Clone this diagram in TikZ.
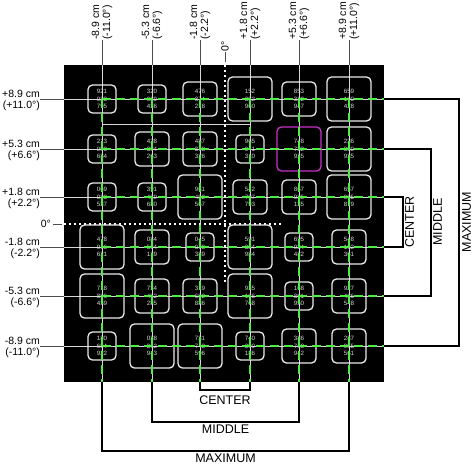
\documentclass[tikz,border=0pt]{standalone}
\usepackage{fontspec}
\setmainfont{Liberation Sans}
\usetikzlibrary{calc}

\definecolor{guide}{RGB}{80,235,70}
\definecolor{gridwhite}{RGB}{215,215,215}
\definecolor{boxwhite}{RGB}{235,235,235}
\definecolor{digitgray}{RGB}{215,215,215}
\definecolor{pickbox}{RGB}{200,50,200}

\begin{document}
\begin{tikzpicture}[x=1pt, y=-1pt,
    panel/.style={fill=black, inner sep=0pt, outer sep=0pt, minimum width=320pt, minimum height=317pt},
    poslab/.style={font=\fontsize{10.5}{11}\selectfont, inner sep=0pt},
    bracketlab/.style={font=\fontsize{12.5}{14}\selectfont, inner sep=0pt},
    tick/.style={draw=black!70, line width=0.9pt},
    bracket/.style={draw=black, line width=1.2pt},
    gridline/.style={draw=gridwhite, line width=1pt},
    zeroline/.style={draw=white, line width=1.1pt, dash pattern=on 2pt off 3pt},
    guideline/.style={draw=guide, line width=2.1pt, dash pattern=on 9pt off 5pt},
    cell/.style={draw=boxwhite, line width=1.3pt, rounded corners=4.5pt, inner sep=0pt,
        align=center, text=digitgray, font=\fontsize{6.2}{7.4}\selectfont},
    cellS/.style={cell, minimum width=28pt, minimum height=28pt},
    cellM/.style={cell, minimum width=34pt, minimum height=34pt},
    cellL/.style={cell, minimum width=44pt, minimum height=44pt},
    cellP/.style={cellL, draw=pickbox}]

    \useasboundingbox (0,0) rectangle (474,466);

    \node[panel] (sq) at (224,223.5) {};

    % columns (top edge) and rows (left edge)
    \foreach \i/\x in {1/102, 2/152, 3/200, 4/250, 5/299, 6/349} {
        \coordinate (c\i) at (\x,65);
        \coordinate (cb\i) at (\x,382);
    }
    \foreach \j/\y in {1/99, 2/149, 3/197, 4/247, 5/296, 6/346} {
        \coordinate (r\j) at (64,\y);
        \coordinate (re\j) at (384,\y);
    }
    \coordinate (c0) at (225,65);
    \coordinate (r0) at (64,224);

    \draw[zeroline] (c0) -- (225,283);
    \draw[zeroline] (r0) -- (282,224);

    \foreach \i in {1,...,6} {
        \draw[gridline] (c\i) -- (cb\i);
        \draw[gridline] (r\i) -- (re\i);
    }
    \draw[gridline] (102,124) -- (250,124);

    \foreach \i/\j/\s/\a/\b/\c in {
        1/1/S/921/083/795, 2/1/S/320/089/436, 3/1/M/476/874/218,
        4/1/L/152/382/960, 5/1/M/853/322/947, 6/1/L/659/190/428,
        1/2/S/213/093/684, 2/2/M/438/394/263, 3/2/M/487/878/326,
        4/2/S/965/941/310, 5/2/P/748/782/935, 6/2/L/236/380/935,
        1/3/S/069/083/537, 2/3/S/391/439/680, 3/3/L/961/452/567,
        4/3/M/542/707/793, 5/3/M/867/935/135, 6/3/L/657/905/879,
        1/4/L/478/916/621, 2/4/M/084/594/139, 3/4/S/045/078/389,
        4/4/L/591/384/984, 5/4/S/695/924/482, 6/4/M/548/192/361,
        1/5/L/718/896/439, 2/5/M/734/452/285, 3/5/M/319/692/886,
        4/5/L/935/136/768, 5/5/S/168/801/950, 6/5/M/927/426/548,
        1/6/S/180/654/922, 2/6/L/038/362/943, 3/6/L/731/743/596,
        4/6/S/740/390/186, 5/6/M/386/768/942, 6/6/M/287/955/561}
        \node[cell\s] (b\j\i) at (c\i |- r\j) {\a\\\b\\\c};

    \foreach \i in {1,...,6} {
        \draw[guideline] (c\i |- r1) -- (cb\i);
        \draw[guideline] (c1 |- r\i) -- (re\i);
    }

    % position labels
    \foreach \i/\t in {1/{-8.9 cm\\(-11.0°)}, 2/{-5.3 cm\\(-6.6°)}, 3/{-1.8 cm\\(-2.2°)},
        4/{+1.8 cm\\(+2.2°)}, 5/{+5.3 cm\\(+6.6°)}, 6/{+8.9 cm\\(+11.0°)}} {
        \node[poslab, rotate=90, anchor=west, align=left] (tx\i) at ($(c\i)+(0,-25)$) {\t};
        \draw[tick] (tx\i.west) -- (c\i);
    }
    \foreach \j/\t in {1/{+8.9 cm\\(+11.0°)}, 2/{+5.3 cm\\(+6.6°)}, 3/{+1.8 cm\\(+2.2°)},
        4/{-1.8 cm\\(-2.2°)}, 5/{-5.3 cm\\(-6.6°)}, 6/{-8.9 cm\\(-11.0°)}} {
        \node[poslab, anchor=east, align=right] (ly\j) at ($(r\j)+(-24,1.5)$) {\t};
        \draw[tick] (ly\j.east |- r\j) -- (r\j);
    }
    \node[poslab, rotate=90, anchor=west] (tx0) at (225,52) {0°};
    \draw[tick] (tx0.west) -- ($(c0)+(0,-3)$);
    \node[poslab, anchor=east] (ly0) at (51,224) {0°};
    \draw[tick] (ly0.east) ++(2,0) -- ($(r0)+(-2,0)$);

    % brackets
    \draw[bracket] (re3) -- ++(19,0) |- (re4);
    \draw[bracket] (re2) -- ++(47,0) |- (re5);
    \draw[bracket] (re1) -- ++(75,0) |- (re6);
    \node[bracketlab, rotate=90, anchor=north] (rc) at (405,222) {CENTER};
    \node[bracketlab, rotate=90, anchor=north] (rm) at (433,222) {MIDDLE};
    \node[bracketlab, rotate=90, anchor=north] (rx) at (462,222) {MAXIMUM};

    \draw[bracket] (cb3) -- ++(0,8) -| (cb4);
    \draw[bracket] (cb2) -- ++(0,40) -| (cb5);
    \draw[bracket] (cb1) -- ++(0,69) -| (cb6);
    \node[bracketlab, anchor=north] (bc) at (225,396) {CENTER};
    \node[bracketlab, anchor=north] (bm) at (225.5,425) {MIDDLE};
    \node[bracketlab, anchor=north] (bx) at (225.5,454) {MAXIMUM};
\end{tikzpicture}
\end{document}
